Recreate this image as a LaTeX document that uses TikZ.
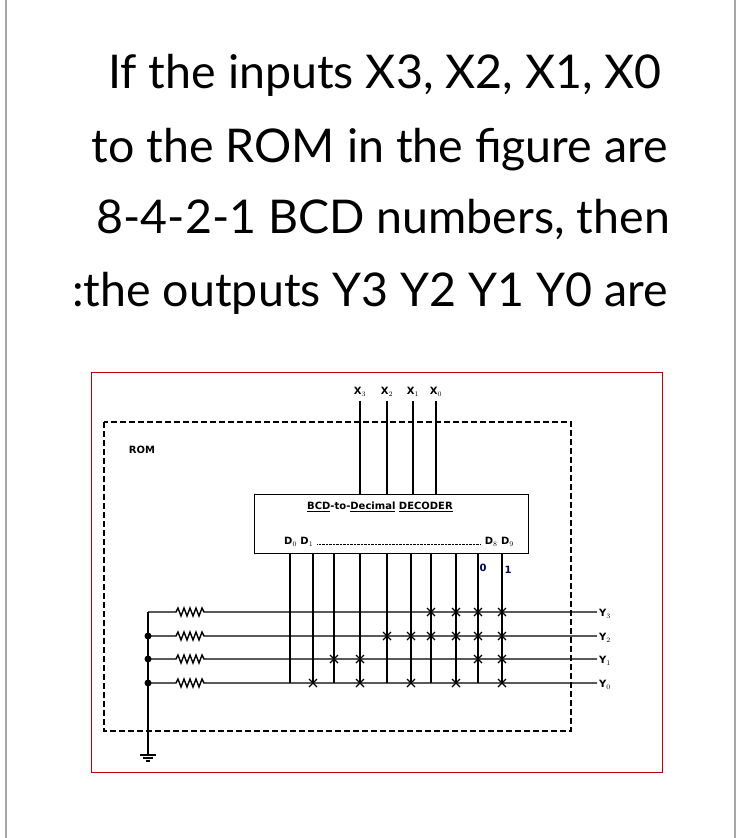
\documentclass[tikz,border=0pt]{standalone}
\usepackage{fontspec}
\setmainfont{Lato}
\newfontfamily\diag{DejaVu Sans}
\begin{document}
\begin{tikzpicture}[x=1pt,y=-1pt,
  qtext/.style={anchor=east,font=\fontsize{46.5}{50}\selectfont,inner sep=0},
  lbl/.style={font=\diag\bfseries\fontsize{10}{11}\selectfont,inner sep=0},
  wire/.style={line width=1.4pt},
  xm/.style={line width=1.1pt}]
\useasboundingbox (0,0) rectangle (741,838);
\fill[white] (0,0) rectangle (741,838);
\draw[gray!70,line width=2pt] (6,0) -- (6,838) (735,0) -- (735,838);
\node[qtext] (q1) at (662,75) {If the inputs X3, X2, X1, X0};
\node[qtext] (q2) at (668,150) {to the ROM in the figure are};
\node[qtext] (q3) at (670,220) {8-4-2-1 BCD numbers, then};
\node[qtext] (q4) at (668,293) {:the outputs Y3 Y2 Y1 Y0 are};
\draw[red!75!black,line width=0.8pt] (91,372) rectangle (662,772);
\draw[line width=1.8pt,dash pattern=on 6pt off 3pt] (104,422) rectangle (571,731);
\node[lbl] (rom) at (142,450) {ROM};
\node[draw,line width=1.2pt,minimum width=274pt,minimum height=59pt,anchor=north west,inner sep=0] (dec) at (254,494) {};
\node[lbl] (dt) at (380,507) {\underline{BCD}-to-\underline{Decimal} \underline{DECODER}};
\node[lbl,anchor=west] (dl) at (284,542) {D$_0$ D$_1$};
\node[lbl,anchor=east] (dr) at (514,542) {D$_8$ D$_9$};
\draw[densely dotted] (dl.east)++(4,2) -- ([xshift=-4pt,yshift=-2pt]dr.west);
\foreach \x/\n in {360/3,387/2,413/1,436/0}{
  \node[lbl] (xl\n) at (\x,392) {X$_\n$};
  \draw[wire] (xl\n.south) ++(0,4) -- (\x,494);}
\node[lbl,text=blue!40!black] (zero) at (483,568) {0};
\node[lbl,text=blue!40!black] (one) at (508,570) {1};
\foreach \x [count=\i from 0] in {290,313,334,360,387,411,431,456,478,502}
  \draw[wire] (\x,553) coordinate (d\i) -- (\x,683);
\foreach \y/\n in {612/3,636/2,659/1,683/0}{
  \draw[wire] (148,\y) -- (176,\y) -- ++(2,-4) -- ++(3,8) -- ++(3,-8) -- ++(3,8) -- ++(3,-8) -- ++(3,8) -- ++(3,-8) -- ++(3,8) -- ++(3,-8) -- ++(2,4) -- (597,\y);
  \node[lbl,anchor=west] (y\n) at (599,\y+2) {Y$_\n$};}
\foreach \y in {636,659,683} \fill (148,\y) circle (3.5pt);
\draw[wire] (148,612) -- (148,755) coordinate (gnd);
\draw[wire] (140,755) -- (156,755) (143,758) -- (153,758) (146,761) -- (150,761);
\foreach \y/\list in {612/{6,7,8,9},636/{4,5,6,7,8,9},659/{2,3,8,9},683/{1,3,5,7,9}}
  \foreach \i in \list
    \draw[xm] (d\i|-0,\y) ++(-4,-4) -- ++(8,8) ++(-8,0) -- ++(8,-8);
\end{tikzpicture}
\end{document}
